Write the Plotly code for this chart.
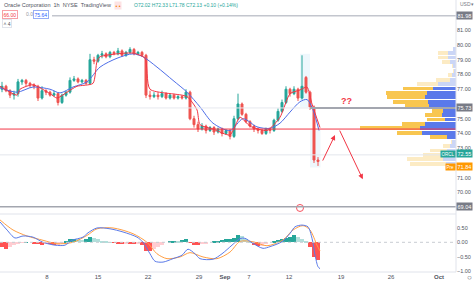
import plotly.graph_objects as go

# ---------------- data ----------------
tick_pos = [11.25, 24, 36.5, 49.25, 55.75, 61.75, 71.75, 84.75, 97.25, 109.25]
tick_text = ["8", "15", "22", "29", "<b>Sep</b>", "7", "12", "19", "26", "<b>Oct</b>"]
price_ticks = [70, 71, 73, 74, 75, 77, 78, 79, 80, 81]
price_tick_text = ["70.00", "71.00", "73.00", "74.00", "75.00", "77.00", "78.00", "79.00", "80.00", "81.00"]

opens = [77.0,77.2,76.9,76.6,76.7,77.5,77.6,77.4,77.3,77.2,
         76.4,76.9,76.8,76.6,76.7,76.1,76.6,76.8,77.6,77.7,
         77.5,77.6,77.4,79.0,78.9,79.3,79.4,79.2,79.5,79.4,
         79.6,79.3,79.5,79.7,79.4,79.5,79.3,76.6,76.5,76.6,
         76.5,76.7,76.4,76.6,76.4,76.5,76.4,76.8,75.0,74.6,
         74.3,74.5,74.2,74.4,74.1,74.3,74.0,74.2,73.8,75.0,
         76.0,75.3,74.8,74.5,74.3,74.2,74.0,74.3,74.2,74.9,
         75.5,76.1,77.0,76.7,77.0,76.4,77.8,76.8,75.8,72.2]
highs = [77.5,77.3,77.0,76.9,77.7,77.7,77.7,77.5,77.4,77.3,
         77.2,77.0,76.9,76.9,76.8,76.7,76.9,77.8,77.9,77.8,
         77.7,77.7,79.4,79.2,79.4,79.6,79.5,79.6,79.6,79.8,
         79.7,79.6,79.85,79.8,79.6,79.6,79.4,76.9,76.8,76.8,
         76.9,76.8,76.7,76.7,76.6,76.6,77.0,76.9,75.2,74.8,
         74.7,74.6,74.5,74.5,74.4,74.4,74.3,74.3,75.2,76.7,
         76.1,75.4,74.9,74.6,74.4,74.3,74.4,74.4,75.0,75.7,
         76.3,77.2,77.1,77.2,77.1,79.3,77.9,76.9,75.9,72.4]
lows = [76.8,76.8,76.4,76.3,76.5,77.3,77.2,77.1,77.0,76.2,
        76.3,76.6,76.5,76.5,75.9,76.0,76.5,76.7,77.5,77.4,
        77.4,77.3,77.3,78.7,78.8,79.1,79.1,79.1,79.3,79.3,
        79.2,79.2,79.4,79.3,79.3,79.2,76.4,76.3,76.4,76.3,
        76.4,76.3,76.3,76.3,76.3,76.3,76.3,74.9,74.4,74.1,
        74.2,74.0,74.1,73.9,74.0,73.8,73.9,73.6,73.7,74.9,
        75.2,74.7,74.4,74.1,74.0,73.9,73.9,74.0,74.1,74.8,
        75.4,76.0,76.5,76.6,76.2,76.3,76.7,75.6,72.0,71.8]
closes = [77.2,76.9,76.6,76.7,77.5,77.6,77.4,77.3,77.2,76.4,
          76.9,76.8,76.6,76.7,76.1,76.6,76.8,77.6,77.7,77.5,
          77.6,77.4,79.0,78.9,79.3,79.4,79.2,79.5,79.4,79.6,
          79.3,79.5,79.7,79.4,79.5,79.3,76.6,76.5,76.6,76.5,
          76.7,76.4,76.6,76.4,76.5,76.4,76.8,75.0,74.6,74.3,
          74.5,74.2,74.4,74.1,74.3,74.0,74.2,73.8,75.0,76.0,
          75.3,74.8,74.5,74.3,74.2,74.0,74.3,74.2,74.9,75.5,
          76.1,77.0,76.7,77.0,76.4,77.2,76.8,75.8,72.2,72.1]
slots = list(range(len(closes)))

slow_ma_t = [-0.5,3.75,7.75,12,14.5,17.75,21.25,24.5,28.75,32.75,35.25,38.75,42.75,46.25,49.5,52.75,57,60.25,63.75,67,69.5,72,74.5,76.25,77.75,79.25]
slow_ma_v = [77.1,76.8,77.15,77.0,76.75,77.15,77.5,78.5,79.1,79.4,79.2,78.5,77.6,76.8,75.8,74.7,74.2,75.0,74.45,74.35,74.7,75.45,76.15,76.3,75.6,74.2]
fast_ma_t = [-0.5,3.75,4.5,7.75,12,13.75,16.25,18.75,22.75,23.75,24.5,32.75,35.75,37,46.25,48.75,49.5,52.75,57,59.5,62,66.25,69.5,72,74.5,76.25,77.5,79.5]
fast_ma_v = [77.2,76.6,77.0,77.3,76.7,76.4,76.8,77.2,77.4,78.9,79.2,79.45,79.1,77.0,76.5,75.6,74.6,74.3,73.9,75.1,74.5,74.2,75.1,76.7,76.95,77.15,76.0,74.4]

macd_t = [-0.5,1.25,3.25,5.25,7.75,10.25,13.25,15.75,17.5,20.25,21.5,23.75,27,30.25,33.75,35.25,37,38.25,40.25,42.75,45,46.5,48.25,49.5,52.75,55,57.5,59.5,60.75,62.75,65.25,67,70,72,73.25,75,76.5,77.5,78.25,79,79.5]
macd_v = [0.71,0.43,0.15,0.22,0.18,0.0,-0.1,-0.1,0.07,0.18,0.33,0.5,0.47,0.36,0.18,0.0,-0.4,-0.66,-0.69,-0.57,-0.45,-0.24,-0.4,-0.57,-0.59,-0.4,-0.1,0.13,0.14,-0.04,-0.21,-0.15,0.02,0.31,0.54,0.6,0.54,0.14,-0.44,-0.85,-0.92]
signal_t = [-0.5,2.75,6.25,10.25,13.75,17.75,21.25,23.75,27.75,32.75,36.25,38.75,41.25,44.5,47,50.25,53.75,57,59.5,62.75,66.25,70.25,72.75,75.25,77,78.75,79.5]
signal_v = [0.78,0.43,0.22,0.07,-0.05,0.0,0.24,0.47,0.5,0.3,0.0,-0.4,-0.57,-0.51,-0.36,-0.51,-0.57,-0.34,0.03,0.02,-0.12,0.08,0.43,0.58,0.43,-0.1,-0.3]
hist = [-0.18,-0.22,-0.15,-0.1,-0.04,-0.02,0.01,0.0,-0.03,-0.06,
        -0.08,-0.05,-0.07,-0.1,-0.08,-0.03,0.05,0.12,0.13,0.1,
        0.08,0.12,0.17,0.15,0.1,0.05,0.03,0.01,-0.02,-0.04,
        -0.05,-0.03,-0.05,-0.07,-0.05,-0.08,-0.3,-0.32,-0.25,-0.15,
        -0.08,0.0,0.04,0.06,0.05,0.08,0.1,-0.02,-0.08,-0.1,
        -0.06,-0.03,0.0,0.03,0.06,0.08,0.1,0.12,0.16,0.27,
        0.22,0.12,0.02,-0.08,-0.14,-0.12,-0.05,0.0,0.05,0.08,
        0.1,0.14,0.18,0.24,0.2,0.12,0.05,-0.15,-0.5,-0.62]

vp_levels = [79.75,79.45,79.15,78.85,78.55,78.25,77.95,77.65,77.35,77.05,76.75,76.45,76.15,75.85,75.55,75.25,74.95,74.65,74.35,74.05,73.75,73.45,73.15,72.85,72.55,72.25,71.95]
vp_up = [3,8,8,6,3,2,4,6,18,23,29,31,28,27,13,14,11,31,36,34,9,4,6,9,10,13,10]
vp_down = [0,10,10,8,1,1,4,14,21,30,41,38,35,24,11,17,18,23,60,25,17,1,7,17,23,36,36]
va_low, va_high = 73.6, 77.2

red_level = 74.30
gray_level = 75.73
low_line = 69.04
top_line = 81.98
last_price = 72.55
pre_price = 71.84
spike_slot, drop_slot = 74.5, 77.0
arrow1 = (80.0, 72.06, 83.25, 73.89)
arrow2 = (84.25, 74.30, 90.2, 70.9)
qq_pos = (86.0, 76.2)
earn_pos = (74.5, 68.95)

# ---------------- figure ----------------
UP, DN = "#26a69a", "#ef5350"
FONT = "Liberation Sans"
TXT = "#50535e"
fig = go.Figure()

fig.add_trace(go.Candlestick(
    x=slots, open=opens, high=highs, low=lows, close=closes,
    increasing=dict(line=dict(color=UP, width=1), fillcolor=UP),
    decreasing=dict(line=dict(color=DN, width=1), fillcolor=DN),
    whiskerwidth=0, xaxis="x", yaxis="y", showlegend=False, hoverinfo="skip"))
fig.add_trace(go.Scatter(x=slow_ma_t, y=slow_ma_v, mode="lines",
    line=dict(color="#4e6ee8", width=1, shape="spline", smoothing=0.8),
    xaxis="x", yaxis="y", showlegend=False, hoverinfo="skip"))
fig.add_trace(go.Scatter(x=fast_ma_t, y=fast_ma_v, mode="lines",
    line=dict(color="#f23645", width=1, shape="spline", smoothing=0.6),
    xaxis="x", yaxis="y", showlegend=False, hoverinfo="skip"))

# volume profile
up_cols = ["#5a79ea" if va_low <= l <= va_high else "#cbd6f6" for l in vp_levels]
dn_cols = ["#f8c650" if va_low <= l <= va_high else "#fcebc4" for l in vp_levels]
fig.add_trace(go.Bar(y=vp_levels, x=vp_up, orientation="h", width=0.26,
    marker=dict(color=up_cols, line=dict(width=0)), xaxis="x2", yaxis="y",
    showlegend=False, hoverinfo="skip"))
fig.add_trace(go.Bar(y=vp_levels, x=vp_down, orientation="h", width=0.26,
    marker=dict(color=dn_cols, line=dict(width=0)), xaxis="x2", yaxis="y",
    showlegend=False, hoverinfo="skip"))

# earnings marker
fig.add_trace(go.Scatter(x=[earn_pos[0]], y=[earn_pos[1]], mode="markers",
    marker=dict(symbol="circle", size=7, color="white", line=dict(color="#f7525f", width=1)),
    xaxis="x", yaxis="y", showlegend=False, hoverinfo="skip"))

# MACD
hist_cols = []
for i, v in enumerate(hist):
    prev = hist[i - 1] if i else v
    if v >= 0:
        hist_cols.append("#26a69a" if v >= prev else "#b2dfdb")
    else:
        hist_cols.append("#ff5252" if v <= prev else "#ffcdd2")
fig.add_trace(go.Bar(x=slots, y=hist, width=0.85, marker=dict(color=hist_cols, line=dict(width=0)),
    xaxis="x", yaxis="y2", showlegend=False, hoverinfo="skip"))
fig.add_trace(go.Scatter(x=signal_t, y=signal_v, mode="lines",
    line=dict(color="#ff9f43", width=1, shape="spline", smoothing=0.8),
    xaxis="x", yaxis="y2", showlegend=False, hoverinfo="skip"))
fig.add_trace(go.Scatter(x=macd_t, y=macd_v, mode="lines",
    line=dict(color="#5b7be9", width=1, shape="spline", smoothing=0.8),
    xaxis="x", yaxis="y2", showlegend=False, hoverinfo="skip"))

shapes = [
    dict(type="rect", xref="x", yref="y", x0=spike_slot, x1=drop_slot, y0=75.8, y1=79.4,
         fillcolor="rgba(120,190,235,0.13)", line=dict(width=0), layer="below"),
    dict(type="rect", xref="x", yref="y", x0=drop_slot, x1=79.6, y0=71.7, y1=74.25,
         fillcolor="rgba(120,190,235,0.13)", line=dict(width=0), layer="below"),
    dict(type="line", xref="paper", yref="y", x0=0, x1=1, y0=gray_level, y1=gray_level,
         line=dict(color="#e6e8ee", width=1)),
    dict(type="line", xref="x", yref="y", x0=drop_slot, x1=113.5, y0=gray_level, y1=gray_level,
         line=dict(color="#a3a6af", width=2)),
    dict(type="line", xref="paper", yref="y", x0=0, x1=1, y0=last_price, y1=last_price,
         line=dict(color="#e3e6ec", width=1)),
    dict(type="line", xref="paper", yref="y", x0=0, x1=1, y0=red_level, y1=red_level,
         line=dict(color="#f23645", width=1)),
    dict(type="line", xref="paper", yref="y", x0=0, x1=1, y0=low_line, y1=low_line,
         line=dict(color="#a3a6af", width=1.5)),
    dict(type="line", xref="x", yref="y", x0=12.5, x1=113.5, y0=top_line, y1=top_line,
         line=dict(color="#c3c6ce", width=1.5)),
    dict(type="line", xref="paper", yref="paper", x0=0, x1=1, y0=0.2132, y1=0.2132,
         line=dict(color="#e0e3eb", width=1)),
    dict(type="line", xref="paper", yref="paper", x0=1, x1=1, y0=0, y1=1,
         line=dict(color="#e0e3eb", width=1)),
    dict(type="line", xref="paper", yref="paper", x0=0, x1=1, y0=0, y1=0,
         line=dict(color="#e0e3eb", width=1)),
    dict(type="line", xref="paper", yref="y2", x0=0, x1=1, y0=0, y1=0,
         line=dict(color="#c9ccd3", width=1, dash="dot")),
]

def axlabel(y, text, bg, ys=0):
    return dict(xref="paper", yref="y", x=1, y=y, xanchor="left", yanchor="middle", yshift=ys,
                text=text, showarrow=False, bgcolor=bg, font=dict(family=FONT, size=5.5, color="white"),
                borderpad=0.5)

def hdr(x, y, text, size=5.5, color=TXT, **kw):
    return dict(xref="paper", yref="paper", x=x, y=y, xanchor="left", yanchor="middle",
                text=text, showarrow=False, font=dict(family=FONT, size=size, color=color), **kw)

ann = [
    axlabel(gray_level, "75.73", "#787b86"),
    axlabel(low_line, "69.04", "#787b86"),
    axlabel(top_line, "81.98", "#787b86"),
    axlabel(last_price, "72.55", "#26a69a", 1),
    axlabel(pre_price, "71.84", "#ff9800", -1.5),
    dict(xref="paper", yref="y", x=1, y=last_price, xanchor="right", yanchor="middle", yshift=1,
         text="ORCL", showarrow=False, bgcolor="#26a69a", font=dict(family=FONT, size=4.5, color="white"), borderpad=0.5),
    dict(xref="paper", yref="y", x=1, y=pre_price, xanchor="right", yanchor="middle", yshift=-1.5,
         text="Pre", showarrow=False, bgcolor="#ff9800", font=dict(family=FONT, size=4.5, color="white"), borderpad=0.5),
    hdr(1.005, 0.985, "USD▾", size=5, color="#787b86"),
    hdr(1.02, -0.022, "○", size=8),
    # header
    hdr(0.004, 0.9816, "Oracle Corporation  1h  NYSE  TradingView", size=5.5),
    hdr(0.25, 0.9816, "• •", size=5, color="#f57c00", bgcolor="#fde3e3", borderpad=0.5),
    hdr(0.289, 0.9816, "O72.02 H72.33 L71.78 C72.13 +0.10 (+0.14%)", size=5, color="#26a69a"),
    hdr(0.004, 0.9485, "66.00", size=5, color="#f23645", bgcolor="white", bordercolor="#f7a0a6", borderwidth=1, borderpad=0.5),
    hdr(0.052, 0.9485, "0.00", size=5, color="#9598a1"),
    hdr(0.072, 0.9485, "75.64", size=5, color="#2962ff", bgcolor="white", bordercolor="#98adf5", borderwidth=1, borderpad=0.5),
    hdr(0.004, 0.912, "˄ 4", size=5, bgcolor="white", bordercolor="#e0e3eb", borderwidth=1, borderpad=0.5),
    # drawings
    dict(xref="x", yref="y", x=qq_pos[0], y=qq_pos[1], text="<b>??</b>", showarrow=False,
         font=dict(family=FONT, size=9, color="#f23645")),
    dict(xref="x", yref="y", axref="x", ayref="y", x=arrow1[2], y=arrow1[3], ax=arrow1[0], ay=arrow1[1],
         showarrow=True, arrowhead=2, arrowsize=1, arrowwidth=1, arrowcolor="#f23645", text=""),
    dict(xref="x", yref="y", axref="x", ayref="y", x=arrow2[2], y=arrow2[3], ax=arrow2[0], ay=arrow2[1],
         showarrow=True, arrowhead=2, arrowsize=1, arrowwidth=1, arrowcolor="#f23645", text=""),
]

fig.update_layout(
    width=474, height=282, margin=dict(l=0, r=18, t=0, b=10),
    paper_bgcolor="white", plot_bgcolor="white", barmode="stack", bargap=0,
    font=dict(family=FONT, size=6, color=TXT),
    shapes=shapes, annotations=ann, showlegend=False,
    xaxis=dict(domain=[0, 1], range=[-0.5, 113.5], anchor="y2", tickvals=tick_pos, ticktext=tick_text,
               showgrid=False, zeroline=False, showline=False, ticks="", rangeslider=dict(visible=False),
               tickfont=dict(family=FONT, size=6, color=TXT)),
    xaxis2=dict(overlaying="x", range=[456, 0], visible=False, anchor="y"),
    yaxis=dict(domain=[0.2132, 1], range=[68.54, 83.05], side="right", anchor="x",
               tickvals=price_ticks, ticktext=price_tick_text,
               showgrid=False, zeroline=False, ticks="", tickfont=dict(family=FONT, size=5.5, color=TXT)),
    yaxis2=dict(domain=[0, 0.2132], range=[-1.035, 0.986], side="right", anchor="x",
                tickvals=[0.5, 0, -0.5, -1.0], ticktext=["0.50", "0.00", "−0.50", "−1.00"],
                showgrid=False, zeroline=False, ticks="", tickfont=dict(family=FONT, size=5.5, color=TXT)),
)

fig.write_html("out.html")
